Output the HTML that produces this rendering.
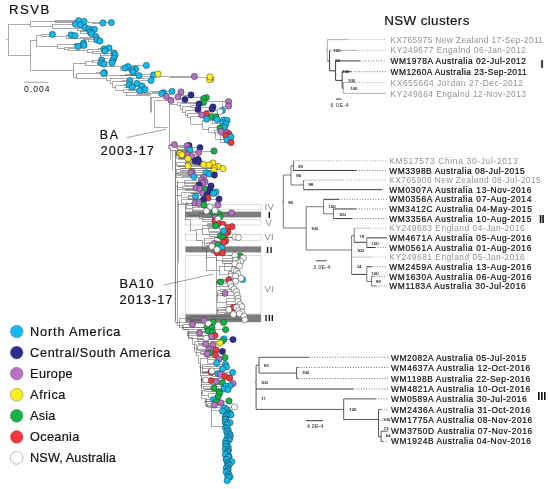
<!DOCTYPE html>
<html lang="en"><head><meta charset="utf-8"><title>RSVB phylogeny</title>
<style>html,body{margin:0;padding:0;background:#fff}svg{display:block}</style></head>
<body>
<svg width="550" height="489" viewBox="0 0 550 489" font-family="'Liberation Sans', sans-serif">
<rect width="550" height="489" fill="#fff"/>
<rect x="185.4" y="204.4" width="75.70000000000002" height="5.0" fill="#fff" stroke="#bbb" stroke-width="0.5"/>
<rect x="185.4" y="211.6" width="75.70000000000002" height="5.800000000000011" fill="#7d7d7d" stroke="none" stroke-width="0.5"/>
<rect x="185.4" y="219.6" width="75.70000000000002" height="5.400000000000006" fill="#fff" stroke="#bbb" stroke-width="0.5"/>
<rect x="185.4" y="234.4" width="75.70000000000002" height="5.799999999999983" fill="#fff" stroke="#bbb" stroke-width="0.5"/>
<rect x="185.4" y="246.4" width="75.70000000000002" height="6.0" fill="#7d7d7d" stroke="none" stroke-width="0.5"/>
<rect x="185.4" y="255.5" width="75.70000000000002" height="58.5" fill="#fff" stroke="#bbb" stroke-width="0.5"/>
<rect x="185.4" y="314.4" width="75.70000000000002" height="7.800000000000011" fill="#7d7d7d" stroke="none" stroke-width="0.5"/>
<path d="M6.1 39.5H8.3M8.5 24.5V55.5M8.3 24.5H30.5M30.5 21.5V26.5M30.5 21.5H55.3M55.5 20.5V22.5M55.3 20.5H76.0M55.3 21.5H82.0M55.3 22.5H78.5M30.5 26.5H52.4M52.5 24.5V28.5M52.4 24.5H77.0M52.4 28.5H84.0M77.5 27.5V30.5M77.0 30.5H94.5M80.5 30.5V33.5M80.0 31.5H90.0M80.0 33.5H91.4M88.0 22.5H102.8M92.0 23.5H100.0M102.8 22.5H111.7M88.5 21.5V22.5M8.3 55.5H30.5M30.5 40.5V70.5M30.5 40.5H36.4M36.5 35.5V46.5M36.4 35.5H41.5M41.5 34.5V36.5M41.5 34.5H52.4M41.5 36.5H66.5M66.5 35.5V38.5M66.5 35.5H75.5M66.5 38.5H92.0M80.5 37.5V38.5M80.0 37.5H96.0M84.5 38.5V39.5M84.0 39.5H97.7M88.5 39.5V41.5M88.0 41.5H99.9M36.4 46.5H57.6M57.5 44.5V48.5M57.6 44.5H83.0M74.5 43.5V45.5M74.0 43.5H83.7M74.0 45.5H84.4M57.6 48.5H64.6M64.5 47.5V49.5M64.6 47.5H77.7M64.6 49.5H68.5M68.5 48.5V50.5M68.5 48.5H81.8M68.5 50.5H87.0M87.5 49.5V52.5M87.0 49.5H103.0M87.0 52.5H92.0M92.5 51.5V53.5M92.0 51.5H104.7M92.0 53.5H113.0M98.5 48.5V49.5M98.0 48.5H109.2M100.5 53.5V58.5M100.0 55.5H114.3M100.0 58.5H108.0M30.5 70.5H73.4M73.5 63.5V77.5M73.4 63.5H85.3M85.5 61.5V65.5M85.3 61.5H92.0M92.5 60.5V62.5M92.0 60.5H101.9M92.0 62.5H112.0M85.3 65.5H107.0M97.5 62.5V64.5M97.0 63.5H101.5M97.0 64.5H104.1M107.0 66.5H124.0M107.5 65.5V66.5M120.5 66.5V70.5M120.6 68.5H125.0M120.6 70.5H132.0M124.5 66.5V67.5M124.0 66.5H128.0M73.4 77.5H76.7M76.5 73.5V78.5M76.7 73.5H103.0M96.0 72.5H104.0M76.7 78.5H106.3M106.5 75.5V80.5M106.3 75.5H139.0M125.0 74.5H152.0M120.0 75.5H137.0M106.3 80.5H110.0M110.5 78.5V83.5M110.0 78.5H146.4M140.0 80.5H150.4M110.0 83.5H112.4M112.5 81.5V87.5M112.4 81.5H128.0M122.0 80.5H130.0M112.4 87.5H115.8M115.5 85.5V90.5M115.8 85.5H129.0M124.0 84.5H137.0M126.0 86.5H142.0M124.0 87.5H132.4M128.0 83.5H137.0M115.8 90.5H123.5M123.5 89.5V92.5M123.5 89.5H145.0M128.0 90.5H139.6M123.5 92.5H150.2M126.5 92.5V95.5M126.0 95.5H150.2M140.0 93.5H161.6M136.0 94.5H151.0M150.0 91.5H172.0M152.0 92.5H163.6M150.2 97.5H161.0M139.0 76.5H170.0M170.0 77.5H208.0M170.0 76.5H194.0M150.5 97.5V112.5M151.5 97.5V112.5M154.5 100.5V127.5M154.9 127.5H167.6M154.9 100.5H169.0M169.5 104.5V149.5M169.1 104.5H177.1M177.5 102.5V105.5M177.1 102.5H203.0M207.0 101.5H228.6M177.1 105.5H180.9M180.5 103.5V109.5M180.9 103.5H196.2M180.9 109.5H182.2M182.5 106.5V112.5M182.2 106.5H190.5M190.5 105.5V107.5M190.5 105.5H196.0M190.5 107.5H210.0M182.2 112.5H185.4M185.5 110.5V115.5M185.4 110.5H195.5M185.4 115.5H187.7M187.5 113.5V117.5M187.7 113.5H203.0M187.7 117.5H190.5M190.5 116.5V124.5M190.5 116.5H208.0M190.5 124.5H202.5M202.5 120.5V129.5M202.5 120.5H220.0M202.5 129.5H208.9M212.5 119.5V123.5M212.0 119.5H222.0M212.0 123.5H222.0M208.5 127.5V132.5M208.9 127.5H217.8M208.9 132.5H214.0M214.5 130.5V133.5M214.0 130.5H218.5M214.0 133.5H215.9M215.5 132.5V139.5M215.9 132.5H224.0M215.9 139.5H224.8M220.5 135.5V142.5M220.0 135.5H224.0M220.0 142.5H229.0M222.0 106.5H228.6M222.5 101.5V106.5M205.0 110.5H219.0M177.1 99.5H185.0M181.0 95.5H190.0M184.0 97.5H205.0M168.5 145.5V148.5M170.5 147.5V159.5M172.5 149.5V170.5M177.5 180.5V323.5M178.5 200.5V262.5M168.5 145.5H174.0M168.5 148.5H170.0M170.0 150.5H185.0M206.5 249.5V270.5M206.0 270.5H215.2M128.0 65.5H146.4M175.4 323.5H177.3M177.5 323.5V325.5M177.3 325.5H183.0M183.5 325.5V329.5M183.0 329.5H188.0M188.5 329.5V337.5M188.0 337.5H192.8M192.5 337.5V344.5M192.8 344.5H196.0M196.5 344.5V355.5M196.0 355.5H198.6M198.5 355.5V363.5M198.6 363.5H200.0M200.5 363.5V375.5M200.0 375.5H201.3M201.5 375.5V398.5M201.3 398.5H206.0M206.5 398.5V406.5M206.0 406.5H211.0M211.5 406.5V410.5M211.5 410.5V426.5M211.0 426.5H223.0M223.5 410.5V426.5M211.0 410.5H223.0M216.5 257.5V314.5M185.5 204.5V219.5M185.0 219.5H190.0M190.5 219.5V230.5M190.0 230.5H196.0M196.5 230.5V240.5M196.0 240.5H202.0M202.5 240.5V248.5M202.0 248.5H206.0M206.5 248.5V257.5M206.0 257.5H216.4M177.1 204.5H185.0M170.5 144.5V145.5M170.4 144.5H174.4M170.4 145.5H189.0M177.5 146.5V150.5M177.9 146.5H187.0M177.9 147.5H200.0M177.9 149.5H188.0M177.9 150.5H190.0M176.5 151.5V154.5M176.0 151.5H214.0M176.0 152.5H198.6M176.0 153.5H180.0M176.0 154.5H181.8M177.5 155.5V155.5M177.9 155.5H187.6M177.9 155.5H182.0M178.5 156.5V159.5M178.5 156.5H192.0M178.5 158.5H188.0M178.5 159.5H198.0M185.5 161.5V164.5M185.8 161.5H195.0M185.8 162.5H199.0M185.8 163.5H213.0M185.8 164.5H203.6M177.5 165.5V166.5M177.9 165.5H209.0M177.9 166.5H188.0M177.9 166.5H218.0M180.5 168.5V171.5M180.7 168.5H214.4M180.7 168.5H223.0M180.7 170.5H214.0M180.7 171.5H192.0M177.5 172.5V175.5M177.9 172.5H206.0M177.9 173.5H191.0M177.9 174.5H209.6M177.9 175.5H214.4M181.5 176.5V177.5M181.9 176.5H194.0M181.9 177.5H203.6M184.5 180.5V185.5M184.6 180.5H201.6M184.6 182.5H205.0M184.6 183.5H202.4M184.6 185.5H199.0M182.5 186.5V188.5M182.3 186.5H211.0M182.3 188.5H196.0M185.5 189.5V190.5M185.1 189.5H200.0M185.1 189.5H205.6M185.1 190.5H210.0M190.5 192.5V193.5M191.0 192.5H216.0M191.0 193.5H213.6M191.0 193.5H203.0M188.5 195.5V199.5M188.1 195.5H207.0M188.1 196.5H195.6M188.1 198.5H208.0M188.1 199.5H219.0M181.5 199.5V203.5M181.3 199.5H203.6M181.3 203.5H195.0M187.5 203.5V205.5M187.6 203.5H199.0M187.6 205.5H204.0M192.5 205.5V211.5M192.3 205.5H218.0M192.3 207.5H210.0M192.3 210.5H215.0M192.3 211.5H206.4M202.5 212.5V213.5M202.5 212.5H213.6M202.5 213.5H231.6M202.5 213.5H218.6M202.5 217.5V221.5M202.6 217.5H220.0M202.6 217.5H215.6M202.6 219.5H218.0M202.6 221.5H215.0M207.5 223.5V226.5M207.7 223.5H219.0M207.7 224.5H223.0M207.7 225.5H215.6M207.7 226.5H232.0M208.5 227.5V231.5M208.9 227.5H227.6M208.9 228.5H222.4M208.9 231.5H223.6M209.5 232.5V236.5M209.2 232.5H228.0M209.2 234.5H225.6M209.2 236.5H220.4M214.5 237.5V241.5M214.4 237.5H235.0M214.4 237.5H223.0M214.4 237.5H238.4M214.4 241.5H225.6M207.5 242.5V243.5M207.8 242.5H223.6M207.8 243.5H214.4M207.5 245.5V246.5M207.3 245.5H218.0M207.3 246.5H212.0M211.5 247.5V253.5M211.6 247.5H221.6M211.6 249.5H217.0M211.6 252.5H217.0M211.6 253.5H222.4M228.5 255.5V255.5M228.1 255.5H234.9M228.1 255.5H240.0M222.5 258.5V263.5M222.5 258.5H243.3M222.5 260.5H235.7M222.5 261.5H240.6M222.5 263.5H238.0M224.5 263.5V270.5M224.4 263.5H234.9M224.4 266.5H239.5M224.4 270.5H234.1M228.5 271.5V278.5M228.3 271.5H236.4M228.3 273.5H238.0M228.3 276.5H235.7M228.3 278.5H241.0M220.5 279.5V280.5M220.2 279.5H242.6M220.2 280.5H228.8M216.5 281.5V286.5M216.6 281.5H235.7M216.6 282.5H220.6M216.6 283.5H230.3M216.6 286.5H231.8M220.5 289.5V291.5M220.2 289.5H234.1M220.2 291.5H236.4M218.5 293.5V295.5M218.9 293.5H225.0M218.9 295.5H237.2M226.5 298.5V306.5M226.5 298.5H238.0M226.5 301.5H238.0M226.5 304.5H240.3M226.5 306.5H241.8M226.5 307.5V307.5M227.0 307.5H233.4M227.0 307.5H236.4M218.5 309.5V312.5M218.9 309.5H228.8M218.9 310.5H238.7M218.9 312.5H241.8M224.5 313.5V314.5M224.4 313.5H239.5M224.4 314.5H233.4M190.5 316.5V320.5M190.5 316.5H244.1M190.5 319.5H244.9M190.5 320.5H204.4M193.5 322.5V323.5M193.6 322.5H213.0M193.6 322.5H223.6M193.6 323.5H208.4M182.5 324.5V329.5M182.9 324.5H192.4M182.9 327.5H207.0M182.9 327.5H212.0M182.9 329.5H225.6M187.5 331.5V335.5M187.9 331.5H208.0M187.9 332.5H212.4M187.9 333.5H199.6M187.9 335.5H215.0M197.5 336.5V339.5M197.2 336.5H211.0M197.2 338.5H206.0M197.2 339.5H224.0M198.5 339.5V344.5M198.9 339.5H233.0M198.9 341.5H222.4M198.9 343.5H220.0M198.9 344.5H205.6M197.5 345.5V350.5M197.6 345.5H213.0M197.6 349.5H209.0M197.6 350.5H216.0M200.5 351.5V354.5M200.7 351.5H222.4M200.7 353.5H210.0M200.7 354.5H207.0M207.5 355.5V363.5M207.8 355.5H215.6M207.8 357.5H225.0M207.8 359.5H219.0M207.8 363.5H216.8M202.5 364.5V371.5M202.3 364.5H225.4M202.3 366.5H226.6M202.3 368.5H222.5M202.3 371.5H212.0M202.5 372.5V373.5M202.2 372.5H211.0M202.2 372.5H232.6M202.2 373.5H218.0M212.5 374.5V376.5M213.0 374.5H220.4M213.0 376.5H225.0M201.5 378.5V380.5M201.6 378.5H229.6M201.6 380.5H205.6M201.6 380.5H211.0M202.5 381.5V382.5M202.9 381.5H216.4M202.9 382.5H222.4M221.5 383.5V385.5M221.2 383.5H233.0M221.2 385.5H230.0M203.5 386.5V388.5M203.2 386.5H225.6M203.2 388.5H214.0M204.5 389.5V391.5M204.9 389.5H224.0M204.9 389.5H228.0M204.9 391.5H219.0M208.5 393.5V397.5M208.6 393.5H219.6M208.6 397.5H218.0M205.5 399.5V401.5M205.2 399.5H213.6M205.2 401.5H229.0M205.2 401.5H216.4M207.5 403.5V407.5M207.9 403.5H221.0M207.9 405.5H214.4M207.9 407.5H234.4M176.5 145.5V148.5M176.6 148.5H177.9M175.4 146.5H176.6M176.5 152.5V158.5M176.6 155.5H177.9M176.6 158.5H178.5M175.4 155.5H176.6M176.5 162.5V165.5M176.6 162.5H185.8M176.6 165.5H177.9M175.4 164.5H176.6M176.5 169.5V177.5M176.6 169.5H180.7M176.6 173.5H177.9M176.6 177.5H181.9M175.4 173.5H176.6M177.5 182.5V189.5M177.1 182.5H184.6M177.1 187.5H182.3M177.1 189.5H185.1M175.4 186.5H177.1M181.5 192.5V197.5M182.0 192.5H191.0M182.0 197.5H188.1M175.4 195.5H182.0M186.5 201.5V208.5M186.4 204.5H187.6M186.4 208.5H192.3M185.2 204.5H186.4M199.5 213.5V218.5M199.2 213.5H202.5M199.2 218.5H202.6M188.9 215.5H199.2M202.5 225.5V234.5M202.8 225.5H207.7M202.8 228.5H208.9M202.8 234.5H209.2M195.6 229.5H202.8M204.5 238.5V245.5M204.4 238.5H214.4M204.4 243.5H207.8M204.4 245.5H207.3M203.2 242.5H204.4M216.5 250.5V260.5M216.0 255.5H228.1M216.0 260.5H222.5M214.8 255.5H216.0M219.5 266.5V274.5M219.0 266.5H224.4M219.0 274.5H228.3M216.4 270.5H219.0M217.5 279.5V283.5M217.6 279.5H220.2M216.4 281.5H217.6M217.5 290.5V302.5M217.6 290.5H220.2M217.6 294.5H218.9M217.6 302.5H226.5M216.4 295.5H217.6M217.5 307.5V314.5M217.6 307.5H227.0M217.6 310.5H218.9M217.6 314.5H224.4M216.4 310.5H217.6M179.5 318.5V327.5M179.2 318.5H190.5M179.2 322.5H193.6M179.2 327.5H182.9M175.4 322.5H179.2M188.5 332.5V338.5M188.2 338.5H197.2M187.0 335.5H188.2M194.5 341.5V352.5M194.9 341.5H198.9M194.9 348.5H197.6M194.9 352.5H200.7M193.7 347.5H194.9M200.5 358.5V372.5M200.1 358.5H207.8M200.1 367.5H202.3M200.1 372.5H202.2M198.9 366.5H200.1M201.5 375.5V382.5M201.4 375.5H213.0M201.4 379.5H201.6M201.4 382.5H202.9M200.2 379.5H201.4M201.5 384.5V387.5M201.8 384.5H221.2M201.8 387.5H203.2M200.6 385.5H201.8M202.5 390.5V395.5M202.2 390.5H204.9M202.2 395.5H208.6M201.0 392.5H202.2M205.5 400.5V405.5M205.2 405.5H207.9M204.0 402.5H205.2" fill="none" stroke="#555" stroke-width="0.5"/>
<path d="M175.4 150.5V321.5" fill="none" stroke="#3a3a3a" stroke-width="0.7"/>
<path d="M126.8 137.6L166.2 129.3M163.7 285.1L213.4 274" fill="none" stroke="#444" stroke-width="0.5"/>
<path d="M23.9 82.3H48.2" stroke="#444" stroke-width="0.5"/>
<g stroke="#222" stroke-width="0.45">
<circle cx="78.6" cy="20.7" r="3.15" fill="#14baee"/>
<circle cx="84.1" cy="21.4" r="3.15" fill="#14baee"/>
<circle cx="111.4" cy="22.6" r="3.15" fill="#14baee"/>
<circle cx="103.0" cy="23.0" r="3.15" fill="#14baee"/>
<circle cx="75.5" cy="24.2" r="3.15" fill="#14baee"/>
<circle cx="80.5" cy="24.9" r="3.15" fill="#14baee"/>
<circle cx="85.0" cy="27.4" r="3.15" fill="#14baee"/>
<circle cx="89.0" cy="29.0" r="3.15" fill="#14baee"/>
<circle cx="94.4" cy="29.4" r="3.15" fill="#14baee"/>
<circle cx="90.0" cy="32.0" r="3.15" fill="#14baee"/>
<circle cx="91.4" cy="33.5" r="3.15" fill="#14baee"/>
<circle cx="52.4" cy="34.4" r="3.15" fill="#14baee"/>
<circle cx="71.0" cy="35.0" r="3.15" fill="#14baee"/>
<circle cx="75.0" cy="35.6" r="3.15" fill="#14baee"/>
<circle cx="96.0" cy="36.6" r="3.15" fill="#14baee"/>
<circle cx="97.0" cy="40.0" r="3.15" fill="#14baee"/>
<circle cx="100.0" cy="41.0" r="3.15" fill="#14baee"/>
<circle cx="83.6" cy="43.0" r="3.15" fill="#14baee"/>
<circle cx="84.0" cy="45.4" r="3.15" fill="#14baee"/>
<circle cx="78.0" cy="46.6" r="3.15" fill="#14baee"/>
<circle cx="109.0" cy="48.0" r="3.15" fill="#14baee"/>
<circle cx="104.0" cy="49.0" r="3.15" fill="#14baee"/>
<circle cx="105.0" cy="51.0" r="3.15" fill="#14baee"/>
<circle cx="114.0" cy="53.0" r="3.15" fill="#14baee"/>
<circle cx="115.0" cy="55.0" r="3.15" fill="#14baee"/>
<circle cx="114.0" cy="58.0" r="3.15" fill="#14baee"/>
<circle cx="101.6" cy="60.0" r="3.15" fill="#14baee"/>
<circle cx="112.4" cy="61.0" r="3.15" fill="#14baee"/>
<circle cx="101.6" cy="63.0" r="3.15" fill="#14baee"/>
<circle cx="112.0" cy="63.0" r="3.15" fill="#14baee"/>
<circle cx="104.0" cy="64.0" r="3.15" fill="#14baee"/>
<circle cx="146.4" cy="65.4" r="3.15" fill="#14baee"/>
<circle cx="128.0" cy="66.6" r="3.15" fill="#14baee"/>
<circle cx="125.0" cy="68.0" r="3.15" fill="#14baee"/>
<circle cx="135.6" cy="69.0" r="3.15" fill="#14baee"/>
<circle cx="132.0" cy="70.0" r="3.15" fill="#14baee"/>
<circle cx="133.0" cy="72.0" r="3.15" fill="#14baee"/>
<circle cx="104.4" cy="72.6" r="3.15" fill="#14baee"/>
<circle cx="103.6" cy="73.4" r="3.15" fill="#14baee"/>
<circle cx="153.6" cy="75.0" r="3.15" fill="#14baee"/>
<circle cx="139.0" cy="75.6" r="3.15" fill="#14baee"/>
<circle cx="158.0" cy="74.0" r="3.15" fill="#fcee21"/>
<circle cx="194.4" cy="76.4" r="3.15" fill="#b673c3"/>
<circle cx="151.0" cy="80.4" r="3.15" fill="#14baee"/>
<circle cx="130.0" cy="80.6" r="3.15" fill="#14baee"/>
<circle cx="211.0" cy="79.0" r="3.15" fill="#fcee21"/>
<circle cx="209.6" cy="79.6" r="3.15" fill="#fcee21"/>
<circle cx="137.0" cy="83.4" r="3.15" fill="#14baee"/>
<circle cx="210.0" cy="77.0" r="3.15" fill="#fcee21"/>
<circle cx="129.0" cy="85.0" r="3.15" fill="#14baee"/>
<circle cx="142.0" cy="86.0" r="3.15" fill="#14baee"/>
<circle cx="132.4" cy="87.0" r="3.15" fill="#14baee"/>
<circle cx="145.0" cy="89.4" r="3.15" fill="#14baee"/>
<circle cx="139.6" cy="90.6" r="3.15" fill="#14baee"/>
<circle cx="172.0" cy="91.4" r="3.15" fill="#14baee"/>
<circle cx="181.0" cy="92.0" r="3.15" fill="#b673c3"/>
<circle cx="163.6" cy="92.6" r="3.15" fill="#14baee"/>
<circle cx="161.6" cy="93.6" r="3.15" fill="#14baee"/>
<circle cx="191.0" cy="95.0" r="3.15" fill="#2e2d90"/>
<circle cx="166.4" cy="96.4" r="3.15" fill="#b673c3"/>
<circle cx="178.0" cy="97.0" r="3.15" fill="#b673c3"/>
<circle cx="206.4" cy="97.6" r="3.15" fill="#14b545"/>
<circle cx="203.6" cy="98.6" r="3.15" fill="#14b545"/>
<circle cx="185.0" cy="99.4" r="3.15" fill="#2e2d90"/>
<circle cx="171.0" cy="100.4" r="3.15" fill="#b673c3"/>
<circle cx="228.6" cy="101.6" r="3.15" fill="#b673c3"/>
<circle cx="203.6" cy="102.4" r="3.15" fill="#14b545"/>
<circle cx="199.0" cy="104.0" r="3.15" fill="#2e2d90"/>
<circle cx="228.6" cy="106.0" r="3.15" fill="#b673c3"/>
<circle cx="213.0" cy="107.0" r="3.15" fill="#2e2d90"/>
<circle cx="212.0" cy="109.0" r="3.15" fill="#2e2d90"/>
<circle cx="198.0" cy="109.4" r="3.15" fill="#2e2d90"/>
<circle cx="222.4" cy="110.4" r="3.15" fill="#14baee"/>
<circle cx="206.4" cy="114.0" r="3.15" fill="#f4373f"/>
<circle cx="201.6" cy="115.0" r="3.15" fill="#b673c3"/>
<circle cx="220.0" cy="111.6" r="3.1" fill="#fff" stroke="#3a3a3a" stroke-width="0.55"/>
<circle cx="211.6" cy="116.6" r="3.15" fill="#14b545"/>
<circle cx="216.0" cy="117.0" r="3.15" fill="#14b545"/>
<circle cx="206.6" cy="119.0" r="3.15" fill="#14baee"/>
<circle cx="217.0" cy="119.6" r="3.15" fill="#14baee"/>
<circle cx="223.6" cy="120.0" r="3.15" fill="#14baee"/>
<circle cx="227.0" cy="120.4" r="3.15" fill="#14baee"/>
<circle cx="223.0" cy="123.0" r="3.15" fill="#14baee"/>
<circle cx="226.0" cy="124.0" r="3.15" fill="#14baee"/>
<circle cx="224.4" cy="127.0" r="3.15" fill="#14baee"/>
<circle cx="220.0" cy="128.0" r="3.15" fill="#14b545"/>
<circle cx="221.0" cy="131.6" r="3.15" fill="#b673c3"/>
<circle cx="227.0" cy="132.4" r="3.15" fill="#b673c3"/>
<circle cx="229.0" cy="134.0" r="3.15" fill="#f4373f"/>
<circle cx="226.0" cy="136.0" r="3.15" fill="#f4373f"/>
<circle cx="231.0" cy="137.0" r="3.15" fill="#14baee"/>
<circle cx="227.0" cy="140.0" r="3.15" fill="#14baee"/>
<circle cx="231.0" cy="142.6" r="3.15" fill="#f4373f"/>
<circle cx="174.4" cy="144.6" r="3.15" fill="#b673c3"/>
<circle cx="189.0" cy="145.4" r="3.15" fill="#2e2d90"/>
<circle cx="187.0" cy="146.0" r="3.15" fill="#b673c3"/>
<circle cx="200.0" cy="147.6" r="3.15" fill="#2e2d90"/>
<circle cx="188.0" cy="149.4" r="3.15" fill="#b673c3"/>
<circle cx="190.0" cy="150.0" r="3.15" fill="#14baee"/>
<circle cx="214.0" cy="151.0" r="3.15" fill="#14b545"/>
<circle cx="198.6" cy="152.6" r="3.15" fill="#b673c3"/>
<circle cx="187.6" cy="155.0" r="3.15" fill="#b673c3"/>
<circle cx="180.0" cy="153.4" r="3.15" fill="#fcee21"/>
<circle cx="182.0" cy="155.6" r="3.15" fill="#b673c3"/>
<circle cx="192.0" cy="156.6" r="3.15" fill="#b673c3"/>
<circle cx="181.8" cy="154.8" r="3.15" fill="#fcee21"/>
<circle cx="198.0" cy="159.4" r="3.15" fill="#2e2d90"/>
<circle cx="188.0" cy="158.6" r="3.15" fill="#fcee21"/>
<circle cx="195.0" cy="161.0" r="3.15" fill="#2e2d90"/>
<circle cx="199.0" cy="162.0" r="3.15" fill="#2e2d90"/>
<circle cx="213.0" cy="163.0" r="3.15" fill="#fcee21"/>
<circle cx="203.6" cy="164.6" r="3.15" fill="#fcee21"/>
<circle cx="209.0" cy="165.0" r="3.15" fill="#fcee21"/>
<circle cx="188.0" cy="166.0" r="3.15" fill="#fcee21"/>
<circle cx="218.0" cy="166.6" r="3.15" fill="#fcee21"/>
<circle cx="214.4" cy="168.0" r="3.15" fill="#fcee21"/>
<circle cx="223.0" cy="168.6" r="3.15" fill="#fcee21"/>
<circle cx="192.0" cy="171.6" r="3.15" fill="#b673c3"/>
<circle cx="214.0" cy="170.6" r="3.15" fill="#fcee21"/>
<circle cx="206.0" cy="172.6" r="3.15" fill="#14baee"/>
<circle cx="191.0" cy="173.0" r="3.15" fill="#b673c3"/>
<circle cx="209.6" cy="174.0" r="3.15" fill="#14baee"/>
<circle cx="214.4" cy="175.0" r="3.15" fill="#2e2d90"/>
<circle cx="194.0" cy="176.6" r="3.15" fill="#14baee"/>
<circle cx="203.6" cy="177.4" r="3.15" fill="#b673c3"/>
<circle cx="201.6" cy="180.0" r="3.15" fill="#b673c3"/>
<circle cx="205.0" cy="182.0" r="3.15" fill="#b673c3"/>
<circle cx="202.4" cy="183.0" r="3.15" fill="#b673c3"/>
<circle cx="199.0" cy="185.0" r="3.15" fill="#2e2d90"/>
<circle cx="211.0" cy="186.0" r="3.15" fill="#2e2d90"/>
<circle cx="196.0" cy="188.0" r="3.15" fill="#b673c3"/>
<circle cx="200.0" cy="189.0" r="3.15" fill="#b673c3"/>
<circle cx="205.6" cy="189.4" r="3.15" fill="#14b545"/>
<circle cx="210.0" cy="190.0" r="3.15" fill="#2e2d90"/>
<circle cx="216.0" cy="192.0" r="3.15" fill="#14baee"/>
<circle cx="213.6" cy="193.4" r="3.15" fill="#14baee"/>
<circle cx="203.0" cy="193.4" r="3.15" fill="#b673c3"/>
<circle cx="207.0" cy="195.0" r="3.15" fill="#2e2d90"/>
<circle cx="195.6" cy="196.4" r="3.15" fill="#14baee"/>
<circle cx="208.0" cy="198.0" r="3.15" fill="#f4373f"/>
<circle cx="219.0" cy="199.0" r="3.15" fill="#2e2d90"/>
<circle cx="203.6" cy="199.4" r="3.15" fill="#2e2d90"/>
<circle cx="195.0" cy="203.0" r="3.15" fill="#b673c3"/>
<circle cx="199.0" cy="203.6" r="3.15" fill="#b673c3"/>
<circle cx="204.0" cy="205.0" r="3.15" fill="#14b545"/>
<circle cx="218.0" cy="205.0" r="3.15" fill="#b673c3"/>
<circle cx="210.0" cy="207.0" r="3.1" fill="#fff" stroke="#3a3a3a" stroke-width="0.55"/>
<circle cx="213.6" cy="212.4" r="3.15" fill="#14b545"/>
<circle cx="231.6" cy="213.0" r="3.15" fill="#b673c3"/>
<circle cx="218.6" cy="213.6" r="3.15" fill="#14b545"/>
<circle cx="215.0" cy="210.4" r="3.1" fill="#fff" stroke="#3a3a3a" stroke-width="0.55"/>
<circle cx="206.4" cy="211.0" r="3.1" fill="#fff" stroke="#3a3a3a" stroke-width="0.55"/>
<circle cx="220.0" cy="217.0" r="3.15" fill="#14b545"/>
<circle cx="215.6" cy="217.6" r="3.15" fill="#b673c3"/>
<circle cx="215.0" cy="221.0" r="3.15" fill="#f4373f"/>
<circle cx="218.0" cy="219.0" r="3.1" fill="#fff" stroke="#3a3a3a" stroke-width="0.55"/>
<circle cx="219.0" cy="223.6" r="3.15" fill="#f4373f"/>
<circle cx="223.0" cy="224.4" r="3.15" fill="#f4373f"/>
<circle cx="215.6" cy="225.6" r="3.15" fill="#14b545"/>
<circle cx="232.0" cy="226.6" r="3.15" fill="#f4373f"/>
<circle cx="227.6" cy="227.6" r="3.15" fill="#f4373f"/>
<circle cx="222.4" cy="228.0" r="3.1" fill="#fff" stroke="#3a3a3a" stroke-width="0.55"/>
<circle cx="228.0" cy="232.0" r="3.15" fill="#f4373f"/>
<circle cx="225.6" cy="234.0" r="3.15" fill="#f4373f"/>
<circle cx="223.6" cy="231.0" r="3.15" fill="#14baee"/>
<circle cx="220.4" cy="236.0" r="3.15" fill="#14b545"/>
<circle cx="223.0" cy="237.6" r="3.15" fill="#14b545"/>
<circle cx="235.0" cy="237.0" r="3.1" fill="#fff" stroke="#3a3a3a" stroke-width="0.55"/>
<circle cx="225.6" cy="241.0" r="3.15" fill="#f4373f"/>
<circle cx="238.4" cy="237.6" r="3.1" fill="#fff" stroke="#3a3a3a" stroke-width="0.55"/>
<circle cx="223.6" cy="242.4" r="3.15" fill="#f4373f"/>
<circle cx="214.4" cy="243.6" r="3.15" fill="#b673c3"/>
<circle cx="218.0" cy="245.0" r="3.15" fill="#14b545"/>
<circle cx="221.6" cy="247.6" r="3.15" fill="#14baee"/>
<circle cx="212.0" cy="246.4" r="3.1" fill="#fff" stroke="#3a3a3a" stroke-width="0.55"/>
<circle cx="217.0" cy="252.4" r="3.15" fill="#f4373f"/>
<circle cx="222.4" cy="253.0" r="3.15" fill="#f4373f"/>
<circle cx="217.0" cy="249.6" r="3.1" fill="#fff" stroke="#3a3a3a" stroke-width="0.55"/>
<circle cx="240.0" cy="255.8" r="3.15" fill="#14b545"/>
<circle cx="234.9" cy="255.4" r="3.1" fill="#fff" stroke="#3a3a3a" stroke-width="0.55"/>
<circle cx="243.3" cy="258.0" r="3.1" fill="#fff" stroke="#3a3a3a" stroke-width="0.55"/>
<circle cx="235.7" cy="260.0" r="3.1" fill="#fff" stroke="#3a3a3a" stroke-width="0.55"/>
<circle cx="240.6" cy="261.5" r="3.1" fill="#fff" stroke="#3a3a3a" stroke-width="0.55"/>
<circle cx="238.0" cy="263.0" r="3.1" fill="#fff" stroke="#3a3a3a" stroke-width="0.55"/>
<circle cx="234.9" cy="263.8" r="3.1" fill="#fff" stroke="#3a3a3a" stroke-width="0.55"/>
<circle cx="239.5" cy="266.1" r="3.1" fill="#fff" stroke="#3a3a3a" stroke-width="0.55"/>
<circle cx="234.1" cy="270.0" r="3.1" fill="#fff" stroke="#3a3a3a" stroke-width="0.55"/>
<circle cx="236.4" cy="271.5" r="3.1" fill="#fff" stroke="#3a3a3a" stroke-width="0.55"/>
<circle cx="238.0" cy="273.8" r="3.1" fill="#fff" stroke="#3a3a3a" stroke-width="0.55"/>
<circle cx="242.6" cy="279.6" r="3.15" fill="#14baee"/>
<circle cx="235.7" cy="276.0" r="3.1" fill="#fff" stroke="#3a3a3a" stroke-width="0.55"/>
<circle cx="228.8" cy="280.0" r="3.15" fill="#f4373f"/>
<circle cx="220.6" cy="282.0" r="3.15" fill="#14b545"/>
<circle cx="241.0" cy="278.4" r="3.1" fill="#fff" stroke="#3a3a3a" stroke-width="0.55"/>
<circle cx="235.7" cy="281.4" r="3.1" fill="#fff" stroke="#3a3a3a" stroke-width="0.55"/>
<circle cx="230.3" cy="283.7" r="3.1" fill="#fff" stroke="#3a3a3a" stroke-width="0.55"/>
<circle cx="231.8" cy="286.8" r="3.1" fill="#fff" stroke="#3a3a3a" stroke-width="0.55"/>
<circle cx="234.1" cy="289.1" r="3.1" fill="#fff" stroke="#3a3a3a" stroke-width="0.55"/>
<circle cx="225.0" cy="293.3" r="3.15" fill="#b673c3"/>
<circle cx="236.4" cy="291.4" r="3.1" fill="#fff" stroke="#3a3a3a" stroke-width="0.55"/>
<circle cx="237.2" cy="295.2" r="3.1" fill="#fff" stroke="#3a3a3a" stroke-width="0.55"/>
<circle cx="238.0" cy="298.3" r="3.1" fill="#fff" stroke="#3a3a3a" stroke-width="0.55"/>
<circle cx="238.0" cy="301.4" r="3.1" fill="#fff" stroke="#3a3a3a" stroke-width="0.55"/>
<circle cx="233.4" cy="307.4" r="3.15" fill="#f4373f"/>
<circle cx="240.3" cy="304.4" r="3.1" fill="#fff" stroke="#3a3a3a" stroke-width="0.55"/>
<circle cx="241.8" cy="306.7" r="3.1" fill="#fff" stroke="#3a3a3a" stroke-width="0.55"/>
<circle cx="236.4" cy="307.5" r="3.1" fill="#fff" stroke="#3a3a3a" stroke-width="0.55"/>
<circle cx="228.8" cy="309.8" r="3.1" fill="#fff" stroke="#3a3a3a" stroke-width="0.55"/>
<circle cx="238.7" cy="310.6" r="3.1" fill="#fff" stroke="#3a3a3a" stroke-width="0.55"/>
<circle cx="241.8" cy="312.1" r="3.1" fill="#fff" stroke="#3a3a3a" stroke-width="0.55"/>
<circle cx="239.5" cy="313.7" r="3.1" fill="#fff" stroke="#3a3a3a" stroke-width="0.55"/>
<circle cx="233.4" cy="314.4" r="3.1" fill="#fff" stroke="#3a3a3a" stroke-width="0.55"/>
<circle cx="244.1" cy="316.3" r="3.1" fill="#fff" stroke="#3a3a3a" stroke-width="0.55"/>
<circle cx="204.4" cy="320.6" r="3.15" fill="#b673c3"/>
<circle cx="213.0" cy="322.0" r="3.15" fill="#14b545"/>
<circle cx="223.6" cy="322.4" r="3.15" fill="#14b545"/>
<circle cx="244.9" cy="319.8" r="3.1" fill="#fff" stroke="#3a3a3a" stroke-width="0.55"/>
<circle cx="192.4" cy="324.4" r="3.15" fill="#b673c3"/>
<circle cx="207.0" cy="327.0" r="3.15" fill="#14b545"/>
<circle cx="208.4" cy="323.6" r="3.1" fill="#fff" stroke="#3a3a3a" stroke-width="0.55"/>
<circle cx="212.0" cy="327.6" r="3.15" fill="#14b545"/>
<circle cx="225.6" cy="329.6" r="3.15" fill="#14b545"/>
<circle cx="208.0" cy="331.0" r="3.15" fill="#14b545"/>
<circle cx="212.4" cy="332.0" r="3.15" fill="#14b545"/>
<circle cx="199.6" cy="333.0" r="3.15" fill="#b673c3"/>
<circle cx="215.0" cy="335.6" r="3.15" fill="#f4373f"/>
<circle cx="211.0" cy="336.6" r="3.15" fill="#b673c3"/>
<circle cx="224.0" cy="339.0" r="3.15" fill="#14baee"/>
<circle cx="233.0" cy="339.6" r="3.15" fill="#2e2d90"/>
<circle cx="222.4" cy="341.0" r="3.15" fill="#14b545"/>
<circle cx="206.0" cy="338.4" r="3.1" fill="#fff" stroke="#3a3a3a" stroke-width="0.55"/>
<circle cx="205.6" cy="344.0" r="3.15" fill="#b673c3"/>
<circle cx="220.0" cy="343.0" r="3.15" fill="#fcee21"/>
<circle cx="213.0" cy="345.0" r="3.15" fill="#b673c3"/>
<circle cx="209.0" cy="349.0" r="3.15" fill="#b673c3"/>
<circle cx="216.0" cy="350.0" r="3.15" fill="#f4373f"/>
<circle cx="222.4" cy="351.4" r="3.15" fill="#2e2d90"/>
<circle cx="210.0" cy="353.0" r="3.15" fill="#14b545"/>
<circle cx="207.0" cy="354.0" r="3.15" fill="#b673c3"/>
<circle cx="215.6" cy="355.0" r="3.15" fill="#f4373f"/>
<circle cx="225.0" cy="357.6" r="3.15" fill="#14b545"/>
<circle cx="219.0" cy="359.0" r="3.15" fill="#b673c3"/>
<circle cx="216.8" cy="363.0" r="3.15" fill="#14baee"/>
<circle cx="225.4" cy="364.4" r="3.15" fill="#14baee"/>
<circle cx="226.6" cy="366.8" r="3.15" fill="#14baee"/>
<circle cx="222.5" cy="368.8" r="3.15" fill="#14baee"/>
<circle cx="211.0" cy="372.0" r="3.15" fill="#f4373f"/>
<circle cx="232.6" cy="372.4" r="3.15" fill="#14baee"/>
<circle cx="218.0" cy="373.6" r="3.15" fill="#14baee"/>
<circle cx="220.4" cy="374.4" r="3.15" fill="#b673c3"/>
<circle cx="212.0" cy="371.0" r="3.1" fill="#fff" stroke="#3a3a3a" stroke-width="0.55"/>
<circle cx="225.0" cy="376.4" r="3.15" fill="#f4373f"/>
<circle cx="229.6" cy="378.0" r="3.15" fill="#f4373f"/>
<circle cx="211.0" cy="380.6" r="3.15" fill="#f4373f"/>
<circle cx="216.4" cy="381.6" r="3.15" fill="#b673c3"/>
<circle cx="222.4" cy="382.6" r="3.15" fill="#14b545"/>
<circle cx="233.0" cy="383.6" r="3.15" fill="#b673c3"/>
<circle cx="205.6" cy="380.0" r="3.1" fill="#fff" stroke="#3a3a3a" stroke-width="0.55"/>
<circle cx="230.0" cy="385.6" r="3.15" fill="#14baee"/>
<circle cx="225.6" cy="386.4" r="3.15" fill="#14baee"/>
<circle cx="214.0" cy="388.0" r="3.15" fill="#14b545"/>
<circle cx="224.0" cy="389.0" r="3.15" fill="#14baee"/>
<circle cx="228.0" cy="389.6" r="3.15" fill="#14baee"/>
<circle cx="219.0" cy="391.6" r="3.15" fill="#14b545"/>
<circle cx="219.6" cy="393.6" r="3.15" fill="#14b545"/>
<circle cx="218.0" cy="397.0" r="3.15" fill="#14b545"/>
<circle cx="213.6" cy="399.6" r="3.15" fill="#14baee"/>
<circle cx="229.0" cy="401.0" r="3.15" fill="#14b545"/>
<circle cx="216.4" cy="401.6" r="3.15" fill="#14b545"/>
<circle cx="221.0" cy="403.0" r="3.15" fill="#b673c3"/>
<circle cx="214.4" cy="405.0" r="3.15" fill="#b673c3"/>
<circle cx="224.5" cy="407.9" r="3.15" fill="#14baee"/>
<circle cx="226.7" cy="409.5" r="3.15" fill="#14baee"/>
<circle cx="234.4" cy="407.0" r="3.1" fill="#fff" stroke="#3a3a3a" stroke-width="0.55"/>
<circle cx="222.6" cy="411.2" r="3.15" fill="#14baee"/>
<circle cx="228.4" cy="411.9" r="3.15" fill="#14baee"/>
<circle cx="230.0" cy="413.4" r="3.15" fill="#14baee"/>
<circle cx="227.8" cy="414.2" r="3.15" fill="#14baee"/>
<circle cx="230.9" cy="414.9" r="3.15" fill="#14baee"/>
<circle cx="226.7" cy="415.6" r="3.15" fill="#14baee"/>
<circle cx="225.3" cy="416.8" r="3.15" fill="#14baee"/>
<circle cx="225.4" cy="418.9" r="3.15" fill="#14baee"/>
<circle cx="225.2" cy="419.6" r="3.15" fill="#14baee"/>
<circle cx="225.4" cy="422.3" r="3.15" fill="#14baee"/>
<circle cx="230.0" cy="422.6" r="3.15" fill="#14baee"/>
<circle cx="226.3" cy="424.5" r="3.15" fill="#14baee"/>
<circle cx="227.2" cy="424.6" r="3.15" fill="#14baee"/>
<circle cx="225.6" cy="427.8" r="3.15" fill="#14baee"/>
<circle cx="227.2" cy="428.1" r="3.15" fill="#14baee"/>
<circle cx="228.3" cy="430.3" r="3.15" fill="#14baee"/>
<circle cx="226.7" cy="431.8" r="3.15" fill="#14baee"/>
<circle cx="228.0" cy="433.6" r="3.15" fill="#14baee"/>
<circle cx="230.0" cy="434.6" r="3.15" fill="#14baee"/>
<circle cx="230.1" cy="436.3" r="3.15" fill="#14baee"/>
<circle cx="227.2" cy="437.4" r="3.15" fill="#14baee"/>
<circle cx="229.5" cy="438.6" r="3.15" fill="#14baee"/>
<circle cx="229.1" cy="440.1" r="3.15" fill="#14baee"/>
<circle cx="225.8" cy="441.1" r="3.15" fill="#14baee"/>
<circle cx="226.6" cy="443.5" r="3.15" fill="#14baee"/>
<circle cx="225.4" cy="443.8" r="3.15" fill="#14baee"/>
<circle cx="228.1" cy="446.6" r="3.15" fill="#14baee"/>
<circle cx="225.9" cy="446.6" r="3.15" fill="#14baee"/>
<circle cx="225.4" cy="449.3" r="3.15" fill="#14baee"/>
<circle cx="228.3" cy="449.5" r="3.15" fill="#14baee"/>
<circle cx="228.1" cy="451.2" r="3.15" fill="#14baee"/>
<circle cx="227.8" cy="452.2" r="3.15" fill="#14baee"/>
<circle cx="226.3" cy="453.9" r="3.15" fill="#14baee"/>
<circle cx="225.3" cy="454.5" r="3.15" fill="#14baee"/>
<circle cx="229.1" cy="456.7" r="3.15" fill="#14baee"/>
<circle cx="228.5" cy="456.9" r="3.15" fill="#14baee"/>
<circle cx="226.3" cy="459.5" r="3.15" fill="#14baee"/>
<circle cx="226.6" cy="459.6" r="3.15" fill="#14baee"/>
<circle cx="231.8" cy="461.7" r="3.15" fill="#14baee"/>
<circle cx="227.4" cy="462.5" r="3.15" fill="#14baee"/>
<circle cx="228.1" cy="464.1" r="3.15" fill="#14baee"/>
<circle cx="229.1" cy="465.1" r="3.15" fill="#14baee"/>
<circle cx="227.2" cy="466.8" r="3.15" fill="#14baee"/>
<circle cx="226.3" cy="468.1" r="3.15" fill="#14baee"/>
<circle cx="228.1" cy="469.6" r="3.15" fill="#14baee"/>
<circle cx="227.7" cy="471.0" r="3.15" fill="#14baee"/>
<circle cx="226.3" cy="472.3" r="3.15" fill="#14baee"/>
<circle cx="228.8" cy="474.3" r="3.15" fill="#14baee"/>
<circle cx="227.8" cy="476.0" r="3.15" fill="#14baee"/>
<circle cx="230.1" cy="476.8" r="3.15" fill="#14baee"/>
<circle cx="228.5" cy="477.9" r="3.15" fill="#14baee"/>
<circle cx="227.2" cy="480.6" r="3.15" fill="#14baee"/>
</g>
<text x="9.0" y="14.2" font-size="13.2" fill="#111" stroke="#111" stroke-width="0.2" textLength="40.3">RSVB</text>
<text x="24.1" y="92.3" font-size="8.6" fill="#111" textLength="25.4">0.004</text>
<text x="99.7" y="139" font-size="12.4" fill="#111" stroke="#111" stroke-width="0.2" textLength="18.3">BA</text>
<text x="100.7" y="154.9" font-size="12.6" fill="#111" stroke="#111" stroke-width="0.2" textLength="53.1">2003-17</text>
<text x="119.4" y="288" font-size="12.8" fill="#111" stroke="#111" stroke-width="0.2" textLength="34.2">BA10</text>
<text x="119.4" y="303.6" font-size="12.8" fill="#111" stroke="#111" stroke-width="0.2" textLength="53">2013-17</text>
<text x="264.6" y="210.3" font-size="9.5" fill="#8a8a8a" textLength="9.3">IV</text>
<text x="267.9" y="217.9" font-size="9.5" fill="#111" font-weight="bold">I</text>
<text x="265.6" y="226.2" font-size="9.5" fill="#8a8a8a">V</text>
<text x="264.6" y="240.3" font-size="9.5" fill="#8a8a8a" textLength="9">VI</text>
<text x="266.3" y="253.2" font-size="9.5" fill="#111" textLength="6.2" font-weight="bold">II</text>
<text x="264.6" y="291.6" font-size="9.5" fill="#8a8a8a" textLength="9">VI</text>
<text x="264.8" y="321.4" font-size="9.5" fill="#111" textLength="8.8" font-weight="bold">III</text>
<circle cx="16.7" cy="331.5" r="6.35" fill="#14baee" stroke="#666" stroke-width="0.45"/>
<text x="30.1" y="335.8" font-size="12.7" fill="#111" stroke="#111" stroke-width="0.2" textLength="90.3">North America</text>
<circle cx="16.7" cy="352.6" r="6.35" fill="#2e2d90" stroke="#666" stroke-width="0.45"/>
<text x="30.1" y="356.9" font-size="12.7" fill="#111" stroke="#111" stroke-width="0.2" textLength="140.1">Central/South America</text>
<circle cx="16.7" cy="373.6" r="6.35" fill="#b673c3" stroke="#666" stroke-width="0.45"/>
<text x="30.1" y="377.9" font-size="12.7" fill="#111" stroke="#111" stroke-width="0.2" textLength="42.5">Europe</text>
<circle cx="16.7" cy="394.7" r="6.35" fill="#fcee21" stroke="#666" stroke-width="0.45"/>
<text x="30.1" y="399.0" font-size="12.7" fill="#111" stroke="#111" stroke-width="0.2" textLength="35.3">Africa</text>
<circle cx="16.7" cy="415.8" r="6.35" fill="#14b545" stroke="#666" stroke-width="0.45"/>
<text x="30.1" y="420.1" font-size="12.7" fill="#111" stroke="#111" stroke-width="0.2" textLength="25.1">Asia</text>
<circle cx="16.7" cy="436.9" r="6.35" fill="#f4373f" stroke="#666" stroke-width="0.45"/>
<text x="30.1" y="441.2" font-size="12.7" fill="#111" stroke="#111" stroke-width="0.2" textLength="49.1">Oceania</text>
<circle cx="16.7" cy="457.9" r="6.35" fill="#ffffff" stroke="#666" stroke-width="0.45"/>
<text x="30.1" y="462.2" font-size="12.7" fill="#111" stroke="#111" stroke-width="0.2" textLength="85.8">NSW, Australia</text>
<text x="384.2" y="25" font-size="13.4" fill="#111" stroke="#111" stroke-width="0.2" textLength="85.2">NSW clusters</text>
<text x="390.6" y="42.7" font-size="8.4" fill="#929292" textLength="152.4">KX765975 New Zealand 17-Sep-2011</text>
<text x="390.6" y="53.4" font-size="8.4" fill="#929292" textLength="135.4">KY249677 Engalnd 06-Jan-2012</text>
<text x="390.6" y="64.0" font-size="8.4" fill="#111" textLength="135.4" stroke="#111" stroke-width="0.22">WM1978A Australia 02-Jul-2012</text>
<text x="390.6" y="74.8" font-size="8.4" fill="#111" textLength="136" stroke="#111" stroke-width="0.22">WM1260A Australia 23-Sep-2011</text>
<text x="390.6" y="85.6" font-size="8.4" fill="#929292" textLength="132.4">KX655664 Jordan 27-Dec-2012</text>
<text x="390.6" y="96.5" font-size="8.4" fill="#929292" textLength="135.4">KY249664 Engalnd 12-Nov-2013</text>
<path d="M326 50.3H327.3M327.3 39.6V60.9M327.3 39.6H347.8M329.6 50.3H356.5M343.4 82.5H356.5M343.4 93.4H386M343.4 82.5V93.4" fill="none" stroke="#707070" stroke-width="0.55"/>
<path d="M327.3 60.9H329.6M329.6 50.3V70.8M329.6 70.8H335.6M335.6 60.9V80.4M335.6 60.9H360.3M335.6 80.4H342.2M342.2 71.7V88.2M342.2 71.7H351M342.2 88.2H343.4" fill="none" stroke="#3c3c3c" stroke-width="1.0"/>
<path d="M347.8 39.6H386" fill="none" stroke="#8c8c8c" stroke-width="0.75" stroke-dasharray="0.9 1.7"/>
<path d="M356.5 50.3H386" fill="none" stroke="#8c8c8c" stroke-width="0.75" stroke-dasharray="0.9 1.7"/>
<path d="M360.3 60.9H386" fill="none" stroke="#3c3c3c" stroke-width="0.75" stroke-dasharray="0.9 1.7"/>
<path d="M351 71.7H386" fill="none" stroke="#3c3c3c" stroke-width="0.75" stroke-dasharray="0.9 1.7"/>
<path d="M356.5 82.5H386" fill="none" stroke="#8c8c8c" stroke-width="0.75" stroke-dasharray="0.9 1.7"/>
<text x="333.5" y="51.8" font-size="4.2" fill="#222" stroke="#222" stroke-width="0.12">100</text>
<text x="335.3" y="62.3" font-size="4.2" fill="#222" stroke="#222" stroke-width="0.12">94</text>
<text x="342.4" y="72.8" font-size="4.2" fill="#222" stroke="#222" stroke-width="0.12">100</text>
<text x="348.1" y="81.8" font-size="4.2" fill="#222" stroke="#222" stroke-width="0.12">100</text>
<text x="350.4" y="89.6" font-size="4.2" fill="#222" stroke="#222" stroke-width="0.12">100</text>
<path d="M336 99.1H341.7" fill="none" stroke="#3c3c3c" stroke-width="1.0"/>
<text x="330.4" y="107.3" font-size="5.1" fill="#222" textLength="18.3">6.0E-4</text>
<text x="540.4" y="68" font-size="11.3" fill="#111" font-weight="bold">I</text>
<text x="389.3" y="163.9" font-size="8.4" fill="#929292" textLength="128.3">KM517573 China 30-Jul-2013</text>
<text x="389.3" y="173.5" font-size="8.4" fill="#111" textLength="135.4" stroke="#111" stroke-width="0.22">WM3398B Australia 08-Jul-2015</text>
<text x="389.3" y="183.2" font-size="8.4" fill="#929292" textLength="151.4">KX765906 New Zealand 08-Jul-2015</text>
<text x="389.3" y="192.8" font-size="8.4" fill="#111" textLength="142" stroke="#111" stroke-width="0.22">WM0307A Australia 13-Nov-2016</text>
<text x="389.3" y="202.4" font-size="8.4" fill="#111" textLength="142" stroke="#111" stroke-width="0.22">WM0356A Australia 07-Aug-2014</text>
<text x="389.3" y="212.1" font-size="8.4" fill="#111" textLength="142.5" stroke="#111" stroke-width="0.22">WM3412C Australia 04-May-2015</text>
<text x="389.3" y="221.7" font-size="8.4" fill="#111" textLength="142" stroke="#111" stroke-width="0.22">WM3356A Australia 10-Aug-2015</text>
<text x="389.3" y="231.3" font-size="8.4" fill="#929292" textLength="135.4">KY249683 England 04-Jan-2016</text>
<text x="389.3" y="240.9" font-size="8.4" fill="#111" textLength="142" stroke="#111" stroke-width="0.22">WM4671A Australia 05-Aug-2016</text>
<text x="389.3" y="250.6" font-size="8.4" fill="#111" textLength="142" stroke="#111" stroke-width="0.22">WM0561A Australia 01-Aug-2016</text>
<text x="389.3" y="260.2" font-size="8.4" fill="#929292" textLength="135.4">KY249681 England 05-Jan-2016</text>
<text x="389.3" y="269.8" font-size="8.4" fill="#111" textLength="142" stroke="#111" stroke-width="0.22">WM2459A Australia 13-Aug-2016</text>
<text x="389.3" y="279.5" font-size="8.4" fill="#111" textLength="142" stroke="#111" stroke-width="0.22">WM1630A Australia 06-Aug-2016</text>
<text x="389.3" y="289.1" font-size="8.4" fill="#111" textLength="136.3" stroke="#111" stroke-width="0.22">WM1183A Australia 30-Jul-2016</text>
<path d="M282.2 202H283.3M283.3 175V228M283.3 175H291M291 165.8V185M291 165.8H293.5M293.5 160.8V170.43M291 185H303.6M303.6 180.06V189.69M283.3 228H306.2M306.2 206.7V250M306.2 206.7H323.6M323.6 199.32000000000002V213.8M323.6 213.8H333.5M333.5 208.95000000000002V218.58M306.2 250H351.6M351.6 235.7V274.4" fill="none" stroke="#3c3c3c" stroke-width="0.7"/>
<path d="M293.5 160.8H299.6M303.6 180.06H343.3M354.2 228.21000000000004H369.5M351.6 257.1H371.6" fill="none" stroke="#8c8c8c" stroke-width="0.5"/>
<path d="M293.5 170.43H356.4M303.6 189.69H382.6M323.6 199.32000000000002H339M333.5 208.95000000000002H356.4M333.5 218.58H352M354.2 242.3H366.8M366.8 237.84000000000003H387M366.8 247.47000000000003H375M351.6 274.4H366.8M366.8 266.73H371.6" fill="none" stroke="#3c3c3c" stroke-width="1.0"/>
<path d="M351.6 235.7H354.2M354.2 228.21000000000004V242.3M366.8 237.84000000000003V247.47000000000003M366.8 266.73V281.5M366.8 281.5H371.6M371.6 276.36V285.99M371.6 276.36H373.8M371.6 285.99H376" fill="none" stroke="#3c3c3c" stroke-width="0.7"/>
<path d="M299.6 160.8H387" fill="none" stroke="#8c8c8c" stroke-width="0.75" stroke-dasharray="0.9 1.7"/>
<path d="M356.4 170.43H387" fill="none" stroke="#3c3c3c" stroke-width="0.75" stroke-dasharray="0.9 1.7"/>
<path d="M343.3 180.06H387" fill="none" stroke="#8c8c8c" stroke-width="0.75" stroke-dasharray="0.9 1.7"/>
<path d="M339 199.32000000000002H387" fill="none" stroke="#3c3c3c" stroke-width="0.75" stroke-dasharray="0.9 1.7"/>
<path d="M356.4 208.95000000000002H387" fill="none" stroke="#3c3c3c" stroke-width="0.75" stroke-dasharray="0.9 1.7"/>
<path d="M352 218.58H387" fill="none" stroke="#3c3c3c" stroke-width="0.75" stroke-dasharray="0.9 1.7"/>
<path d="M369.5 228.21000000000004H387" fill="none" stroke="#8c8c8c" stroke-width="0.75" stroke-dasharray="0.9 1.7"/>
<path d="M375 247.47000000000003H387" fill="none" stroke="#3c3c3c" stroke-width="0.75" stroke-dasharray="0.9 1.7"/>
<path d="M371.6 257.1H387" fill="none" stroke="#8c8c8c" stroke-width="0.75" stroke-dasharray="0.9 1.7"/>
<path d="M371.6 266.73H387" fill="none" stroke="#3c3c3c" stroke-width="0.75" stroke-dasharray="0.9 1.7"/>
<path d="M373.8 276.36H387" fill="none" stroke="#3c3c3c" stroke-width="0.75" stroke-dasharray="0.9 1.7"/>
<path d="M376 285.99H387" fill="none" stroke="#3c3c3c" stroke-width="0.75" stroke-dasharray="0.9 1.7"/>
<text x="298.3" y="167.6" font-size="4.2" fill="#222" stroke="#222" stroke-width="0.12">93</text>
<text x="296.3" y="177.2" font-size="4.2" fill="#222" stroke="#222" stroke-width="0.12">96</text>
<text x="308.5" y="186.4" font-size="4.2" fill="#222" stroke="#222" stroke-width="0.12">99</text>
<text x="288.3" y="203.6" font-size="4.2" fill="#222" stroke="#222" stroke-width="0.12">90</text>
<text x="328.6" y="208.3" font-size="4.2" fill="#222" stroke="#222" stroke-width="0.12">100</text>
<text x="338.9" y="215.5" font-size="4.2" fill="#222" stroke="#222" stroke-width="0.12">100</text>
<text x="311.2" y="230.2" font-size="4.2" fill="#222" stroke="#222" stroke-width="0.12">100</text>
<text x="359.3" y="237.5" font-size="4.2" fill="#222" stroke="#222" stroke-width="0.12">79</text>
<text x="371.6" y="244.7" font-size="4.2" fill="#222" stroke="#222" stroke-width="0.12">100</text>
<text x="356.9" y="251.9" font-size="4.2" fill="#222" stroke="#222" stroke-width="0.12">100</text>
<text x="356.9" y="267.6" font-size="4.2" fill="#222" stroke="#222" stroke-width="0.12">24</text>
<text x="371.6" y="275.2" font-size="4.2" fill="#222" stroke="#222" stroke-width="0.12">100</text>
<text x="376.1" y="283" font-size="4.2" fill="#222" stroke="#222" stroke-width="0.12">98</text>
<path d="M316 260.8H326.9" fill="none" stroke="#3c3c3c" stroke-width="0.9"/>
<text x="313.3" y="268.7" font-size="5.1" fill="#222" textLength="17">3.0E-4</text>
<text x="538.9" y="223.3" font-size="11.3" fill="#111" textLength="5.7" font-weight="bold">II</text>
<text x="391.1" y="360.5" font-size="8.4" fill="#111" textLength="135" stroke="#111" stroke-width="0.22">WM2082A Australia 05-Jul-2015</text>
<text x="391.1" y="370.7" font-size="8.4" fill="#111" textLength="139" stroke="#111" stroke-width="0.22">WM4637A Australia 12-Oct-2016</text>
<text x="391.1" y="381.5" font-size="8.4" fill="#111" textLength="139" stroke="#111" stroke-width="0.22">WM1198B Australia 22-Sep-2016</text>
<text x="391.1" y="391.9" font-size="8.4" fill="#111" textLength="139" stroke="#111" stroke-width="0.22">WM4821A Australia 10-Oct-2016</text>
<text x="391.1" y="402.0" font-size="8.4" fill="#111" textLength="135.5" stroke="#111" stroke-width="0.22">WM0589A Australia 30-Jul-2016</text>
<text x="391.1" y="412.7" font-size="8.4" fill="#111" textLength="139" stroke="#111" stroke-width="0.22">WM2436A Australia 31-Oct-2016</text>
<text x="391.1" y="423.3" font-size="8.4" fill="#111" textLength="141" stroke="#111" stroke-width="0.22">WM1775A Australia 08-Nov-2016</text>
<text x="391.1" y="434.0" font-size="8.4" fill="#111" textLength="141" stroke="#111" stroke-width="0.22">WM3750D Australia 07-Nov-2016</text>
<text x="391.1" y="444.4" font-size="8.4" fill="#111" textLength="139.7" stroke="#111" stroke-width="0.22">WM1924B Australia 04-Nov-2016</text>
<path d="M254.9 382.1H256.1M256.1 365.3V409.4M256.1 365.3H259M259 357.3V373.1M259 357.3H309M259 373.1H296.6M296.6 367.5V378.6M296.6 367.5H298.3M296.6 378.6H298.7M256.1 409.4H343.7M343.7 398.9V419.5M343.7 398.9H375.8M343.7 419.5H378.5M378.5 409.6V436.8M378.5 409.6H381.1M378.5 436.8H381.1M381.1 431.2V441.4M381.1 431.2H387.8M381.1 441.4H383" fill="none" stroke="#3c3c3c" stroke-width="0.85"/>
<path d="M256.1 389H353.2" fill="none" stroke="#3c3c3c" stroke-width="1.2"/>
<path d="M309 357.3H388" fill="none" stroke="#3c3c3c" stroke-width="0.75" stroke-dasharray="0.9 1.7"/>
<path d="M298.3 367.5H388" fill="none" stroke="#3c3c3c" stroke-width="0.75" stroke-dasharray="0.9 1.7"/>
<path d="M298.7 378.6H388" fill="none" stroke="#3c3c3c" stroke-width="0.75" stroke-dasharray="0.9 1.7"/>
<path d="M353.2 389H388" fill="none" stroke="#3c3c3c" stroke-width="0.75" stroke-dasharray="0.9 1.7"/>
<path d="M375.8 398.9H388" fill="none" stroke="#3c3c3c" stroke-width="0.75" stroke-dasharray="0.9 1.7"/>
<path d="M381.1 409.6H388" fill="none" stroke="#3c3c3c" stroke-width="0.75" stroke-dasharray="0.9 1.7"/>
<path d="M379.5 420.2H383" fill="none" stroke="#3c3c3c" stroke-width="0.75" stroke-dasharray="0.9 1.7"/>
<path d="M383 441.4H388" fill="none" stroke="#3c3c3c" stroke-width="0.75" stroke-dasharray="0.9 1.7"/>
<text x="263.9" y="366.8" font-size="4.2" fill="#222" stroke="#222" stroke-width="0.12">63</text>
<text x="302.1" y="374.3" font-size="4.2" fill="#222" stroke="#222" stroke-width="0.12">100</text>
<text x="260.9" y="383.5" font-size="4.2" fill="#222" stroke="#222" stroke-width="0.12">100</text>
<text x="260.9" y="400.4" font-size="4.2" fill="#222" stroke="#222" stroke-width="0.12">17</text>
<text x="349.3" y="410.5" font-size="4.2" fill="#222" stroke="#222" stroke-width="0.12">100</text>
<text x="383.1" y="420.9" font-size="4.2" fill="#222" stroke="#222" stroke-width="0.12">100</text>
<text x="383.8" y="429.5" font-size="4.2" fill="#222" stroke="#222" stroke-width="0.12">23</text>
<text x="385.8" y="437.2" font-size="4.2" fill="#222" stroke="#222" stroke-width="0.12">64</text>
<path d="M305.9 420.7H323" fill="none" stroke="#3c3c3c" stroke-width="1.0"/>
<text x="307" y="427.6" font-size="5.1" fill="#222" textLength="16.4">4.0E-4</text>
<text x="537.3" y="399.9" font-size="11.3" fill="#111" textLength="9.2" font-weight="bold">III</text>
</svg>
</body></html>
